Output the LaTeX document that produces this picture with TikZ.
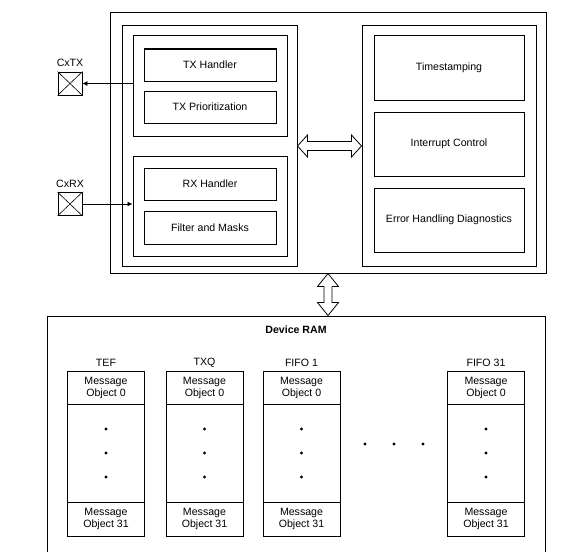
\documentclass[tikz,border=0pt]{standalone}
\usepackage{fontspec}
\setmainfont{Liberation Sans}
\usetikzlibrary{calc,arrows.meta}
\begin{document}
\begin{tikzpicture}[x=1pt,y=-1pt,
  every node/.style={font=\fontsize{10.6}{12}\selectfont},
  box/.style={draw,line width=1pt,inner sep=0pt,minimum width=#1},
  cell/.style={draw,line width=1pt,inner sep=0pt,minimum width=77pt,align=center},
  lbl/.style={inner sep=0pt},
  pin/.style={draw,line width=0.8pt,inner sep=0pt,minimum width=24pt,minimum height=23pt},
  sig/.style={line width=0.8pt,-{Latex[length=5pt,width=5pt]}},
  fat/.style={draw,line width=0.8pt,fill=white},
  dot/.style={fill=black,circle,inner sep=0pt,minimum size=3.2pt}
]
\useasboundingbox (0,0) rectangle (561,551);
\clip (0,0) rectangle (561,551);
% top block
\node[box=436pt,minimum height=260pt] (outer) at (328,143) {};
\node[box=175pt,minimum height=240pt] (left) at (209.5,146) {};
\node[box=174pt,minimum height=240pt] (right) at (449,146) {};
\node[box=154pt,minimum height=100pt] (txg) at (210,86) {};
\node[box=132pt,minimum height=32pt] (txh) at (210,65) {TX Handler};
\node[box=132pt,minimum height=32pt] (txp) at (210,107) {TX Prioritization};
\node[box=154pt,minimum height=100pt] (rxg) at (210,206) {};
\node[box=132pt,minimum height=32pt] (rxh) at (210,184) {RX Handler};
\node[box=132pt,minimum height=33pt] (fm) at (210,227.5) {Filter and Masks};
\node[box=150pt,minimum height=64pt] (ts) at (449,68) {Timestamping};
\node[box=150pt,minimum height=64pt] (ic) at (449,144) {Interrupt Control};
\node[box=150pt,minimum height=64pt] (eh) at (449,220) {Error Handling Diagnostics};
% pins
\node[pin] (cxtx) at (70,83.5) {};
\draw[line width=0.6pt] (cxtx.north west) -- (cxtx.south east) (cxtx.north east) -- (cxtx.south west);
\node[lbl] (cxtxl) at (70,63) {CxTX};
\node[pin] (cxrx) at (70,204) {};
\draw[line width=0.6pt] (cxrx.north west) -- (cxrx.south east) (cxrx.north east) -- (cxrx.south west);
\node[lbl] (cxrxl) at (70,184) {CxRX};
\draw[sig] (txg.west |- cxtx.east) -- (cxtx.east);
\draw[sig] (cxrx.east) -- (rxg.west |- cxrx.east);
% horizontal double arrow
\coordinate (hA) at (left.east);
\coordinate (hB) at (right.west);
\draw[fat] (hA) -- ++(10,-11) -- ++(0,6.5) -- ($(hB)+(-10,-4.5)$) -- ++(0,-6.5) -- (hB)
  -- ++(-10,11) -- ++(0,-6.5) -- ($(hA)+(10,4.5)$) -- ++(0,6.5) -- cycle;
% device RAM
\node[box=498pt,minimum height=244pt] (ram) at (296,438) {};
\node[lbl,font=\fontsize{10.6}{12}\selectfont\bfseries] (ramt) at (296,330) {Device RAM};
% vertical double arrow
\coordinate (vA) at (outer.south);
\coordinate (vB) at (vA |- ram.north);
\draw[fat] (vA) -- ++(10.5,13) -- ++(-6.5,0) -- ($(vB)+(4,-13)$) -- ++(6.5,0) -- (vB)
  -- ++(-10.5,-13) -- ++(6.5,0) -- ($(vA)+(-4,13)$) -- ++(-6.5,0) -- cycle;
% columns
\foreach \n/\cx/\t in {tef/106/TEF, txq/204.5/TXQ, fa/301.5/FIFO 1, fb/486/FIFO 31}{
  \node[lbl] (\n l) at (\cx,363) {\t};
  \node[cell,minimum height=33pt] (\n a) at (\cx,387.5) {Message\\Object 0};
  \node[cell,minimum height=98pt] (\n b) at (\cx,453) {};
  \node[cell,minimum height=34pt] (\n c) at (\cx,519) {Message\\Object 31};
  \node[dot] (\n d1) at ($(\n b.center)+(0,-24)$) {};
  \node[dot] (\n d2) at (\n b.center) {};
  \node[dot] (\n d3) at ($(\n b.center)+(0,24)$) {};
}
\node[dot] (h1) at (365,444) {};
\node[dot] (h2) at (394,444) {};
\node[dot] (h3) at (423,444) {};
\end{tikzpicture}
\end{document}
